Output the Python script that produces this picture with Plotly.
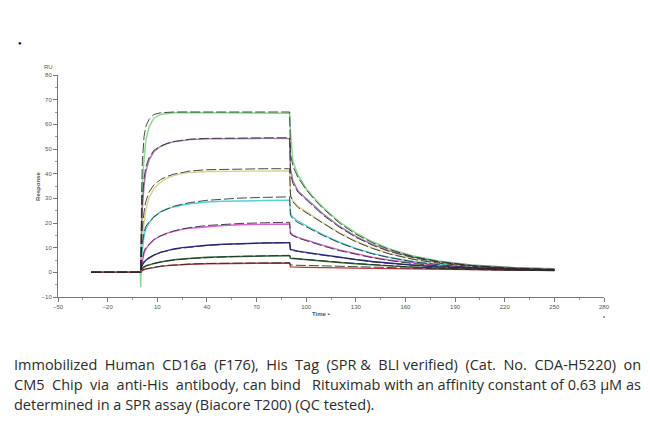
import plotly.graph_objects as go

# time points (s) shared by every curve
T = [-30, -0.3, 0, 0.5, 1, 2, 3, 5, 8, 12, 16, 20, 25, 30, 40, 50, 60, 75, 89.5, 90,
     90.5, 92, 95, 100, 105, 110, 120, 130, 140, 150, 165, 180, 200, 225, 250]

data_1 = [0, 0, -6, 20, 35, 46, 53, 59, 62.5, 64, 64.5, 64.7, 64.8, 64.8, 64.8, 64.8, 64.7, 64.6, 64.5, 64.5,
          57, 45, 39.5, 34, 30, 26.5, 20.5, 16, 12.4, 9.6, 6.6, 4.6, 3, 2, 1.5]
data_2 = [0, 0, 0, 16, 26, 35, 40.5, 45.5, 49, 51, 52.2, 53, 53.5, 53.8, 54.1, 54.2, 54.3, 54.3, 54.2, 54,
          42, 37, 33, 29.8, 26.8, 23.8, 18.7, 14.6, 11.3, 8.8, 6.1, 4.3, 2.9, 1.9, 1.4]
data_3 = [0, 0, 0, 9, 14, 20, 25, 30, 34, 36.5, 38.2, 39.2, 40, 40.5, 40.9, 41, 41.1, 41.1, 41.1, 41,
          32, 29, 26.8, 24.6, 22.3, 20.1, 16.1, 12.6, 9.9, 7.7, 5.4, 3.8, 2.5, 1.6, 1.1]
data_4 = [0, 0, 0, 6, 10, 14.5, 17.5, 20, 22.5, 24.5, 25.8, 26.6, 27.3, 27.8, 28.5, 28.8, 29, 29.1, 29.2, 29.2,
          24, 22.3, 20.8, 19, 17.1, 15.3, 12.2, 9.7, 7.7, 6.1, 4.4, 3.2, 2.1, 1.4, 1.0]
data_5 = [0, 0, 0, 3, 5, 7.5, 9.3, 11.2, 13.2, 14.8, 15.9, 16.7, 17.4, 17.9, 18.6, 19, 19.3, 19.5, 19.6, 19.6,
          16, 15.2, 14.2, 13.1, 12, 11, 9.1, 7.5, 6.1, 5, 3.7, 2.7, 1.9, 1.3, 1.0]
data_6 = [0, 0, 0, 2, 3, 4, 4.8, 5.8, 7, 8.1, 8.9, 9.5, 10, 10.4, 11, 11.4, 11.7, 11.9, 12, 12,
          9.3, 9, 8.6, 8.1, 7.6, 7.1, 6.1, 5.2, 4.4, 3.7, 2.9, 2.2, 1.6, 1.1, 0.8]
data_7 = [0, 0, 0, 1, 1.5, 2.1, 2.5, 3, 3.6, 4.2, 4.7, 5.1, 5.4, 5.7, 6.1, 6.3, 6.5, 6.6, 6.7, 6.7,
          5.7, 5.6, 5.4, 5.2, 4.9, 4.6, 4.0, 3.5, 3.0, 2.6, 2.1, 1.7, 1.3, 0.9, 0.7]
data_8 = [0, 0, 0, 0.5, 0.8, 1.1, 1.3, 1.6, 2.0, 2.4, 2.7, 2.9, 3.1, 3.3, 3.5, 3.6, 3.7, 3.8, 3.8, 3.8,
          2.2, 2.1, 2.1, 2.0, 2.0, 1.9, 1.8, 1.7, 1.6, 1.5, 1.3, 1.2, 1.0, 0.9, 0.8]

# 1:1 binding fits (RU)
fit_1 = [0, 0, 0, 30, 45, 55, 59, 62, 64, 64.7, 64.9, 65, 65, 65, 65, 65, 65, 65, 65, 65,
         48, 43, 38.5, 33.5, 29.5, 26, 20, 15.5, 12, 9.3, 6.3, 4.4, 2.7, 1.7, 1.2]
fit_2 = [0, 0, 0, 20, 30, 38, 42.5, 46.5, 49.5, 51.2, 52.3, 53, 53.6, 54, 54.3, 54.4, 54.5, 54.6, 54.6, 54.6,
         40, 36, 32.5, 29.3, 26.3, 23.3, 18.3, 14.2, 11, 8.5, 5.9, 4.1, 2.7, 1.7, 1.2]
fit_3 = [0, 0, 0, 12, 18, 24.5, 28.5, 32.5, 35.5, 37.6, 38.9, 39.8, 40.6, 41.1, 41.6, 41.8, 41.9, 42, 42, 42,
         31, 28.5, 26.3, 24.2, 21.9, 19.8, 15.8, 12.4, 9.7, 7.5, 5.2, 3.7, 2.4, 1.5, 1.0]
fit_4 = [0, 0, 0, 8, 12, 16, 18.5, 20.5, 22.5, 24.5, 25.8, 26.8, 27.6, 28.3, 29.2, 29.8, 30.1, 30.4, 30.6, 30.6,
         23, 21.6, 20.2, 18.5, 16.7, 15, 12, 9.5, 7.5, 6, 4.2, 3.1, 2, 1.3, 0.9]
fit_5 = [0, 0, 0, 4, 6, 8.5, 10, 11.5, 13.3, 14.8, 15.9, 16.8, 17.6, 18.2, 19, 19.5, 19.8, 20.1, 20.3, 20.3,
         15.5, 14.8, 13.9, 12.8, 11.7, 10.7, 8.8, 7.2, 5.9, 4.8, 3.5, 2.6, 1.8, 1.2, 0.9]
fit_6 = [0, 0, 0, 2.5, 3.5, 4.5, 5.2, 6, 7.1, 8.1, 8.8, 9.3, 9.8, 10.2, 10.9, 11.3, 11.6, 11.9, 12.1, 12.1,
         9, 8.8, 8.4, 7.9, 7.4, 6.9, 5.9, 5, 4.2, 3.6, 2.8, 2.2, 1.6, 1.1, 0.8]
fit_7 = [0, 0, 0, 1.2, 1.8, 2.3, 2.7, 3.1, 3.7, 4.2, 4.6, 5, 5.3, 5.6, 6, 6.3, 6.5, 6.7, 6.9, 6.9,
         5.8, 5.7, 5.5, 5.3, 5, 4.7, 4.1, 3.6, 3.1, 2.7, 2.1, 1.7, 1.3, 0.9, 0.7]
fit_8 = [0, 0, 0, 0.6, 0.9, 1.2, 1.4, 1.7, 2.1, 2.5, 2.8, 3, 3.2, 3.4, 3.6, 3.7, 3.8, 3.9, 3.9, 3.9,
         3, 2.9, 2.85, 2.8, 2.7, 2.6, 2.4, 2.2, 2, 1.8, 1.5, 1.3, 1.1, 0.9, 0.7]

data_curves = [data_1, data_2, data_3, data_4, data_5, data_6, data_7, data_8]
fit_curves = [fit_1, fit_2, fit_3, fit_4, fit_5, fit_6, fit_7, fit_8]
colors = ['#86d88a', '#a47aae', '#d9d08f', '#55d2d6', '#d665d3', '#2b2f9e', '#2f6a35', '#b8383a']

X_TICKS = [-50, -20, 10, 40, 70, 100, 130, 160, 190, 220, 250, 280]
Y_TICKS = [-10, 0, 10, 20, 30, 40, 50, 60, 70, 80]

# the caption is justified in the original, so the first two lines get wider gaps
CAPTION = [
    "Immobilized  Human  CD16a  (F176),  His  Tag  (SPR &amp;  BLI verified)  (Cat.  No.  CDA-H5220)  on",
    "CM5  Chip  via  anti-His  antibody, can bind   Rituximab with an affinity constant of 0.63 \u03bcM as",
    "determined in a SPR assay (Biacore T200) (QC tested).",
]

fig = go.Figure()

for y, c in zip(data_curves, colors):
    fig.add_trace(go.Scatter(x=T, y=y, mode='lines', line=dict(color=c, width=1.4)))

for y in fit_curves:
    fig.add_trace(go.Scatter(x=T, y=y, mode='lines', opacity=0.85,
                             line=dict(color='#2a2a2a', width=1, dash='10px,3px')))

tick_font = dict(family='Liberation Sans, Arial', size=6, color='#555')
fig.update_xaxes(range=[-50, 280], tickvals=X_TICKS, showgrid=False, zeroline=False,
                 showline=True, linecolor='#777', linewidth=1, ticks='outside', ticklen=4,
                 tickcolor='#777', tickfont=tick_font,
                 minor=dict(dtick=15, tick0=-50, ticks='outside', ticklen=2, tickcolor='#999'))
fig.update_yaxes(range=[-10, 80], tickvals=Y_TICKS, showgrid=False, zeroline=False,
                 showline=True, linecolor='#777', linewidth=1, ticks='outside', ticklen=4,
                 tickcolor='#777', tickfont=tick_font,
                 minor=dict(dtick=5, tick0=-10, ticks='outside', ticklen=2, tickcolor='#999'))

small = dict(family='Liberation Sans, Arial', size=6, color='#555')
notes = [
    dict(x=-0.029, y=1.059, text='RU', font=small),
    dict(x=-0.046, y=0.5, text='<b>Response</b>', textangle=-90, font=small),
    dict(x=0.482, y=-0.097, text='<b>Time \u25aa</b>', font=small),
    dict(x=1.006, y=-0.108, text='<b>s</b>', font=dict(size=4, color='#555')),
    dict(x=-0.077, y=1.171, text='\u25cf', font=dict(size=6, color='#111')),
]
for n in notes:
    fig.add_annotation(xref='paper', yref='paper', showarrow=False, **n)

for i, line in enumerate(CAPTION):
    fig.add_annotation(xref='paper', yref='paper', x=-0.0842, y=-0.306 - 0.09 * i,
                       xanchor='left', yanchor='middle', showarrow=False, text=line,
                       font=dict(family='Open Sans', size=14.5, color='#2b2b2b'))

# page body has an 8px offset, so the plot box is shifted back by that much
fig.update_layout(width=650, height=422, margin=dict(l=50, r=54, t=67, b=133),
                  paper_bgcolor='white', plot_bgcolor='white', showlegend=False)

fig.write_html("out.html")
